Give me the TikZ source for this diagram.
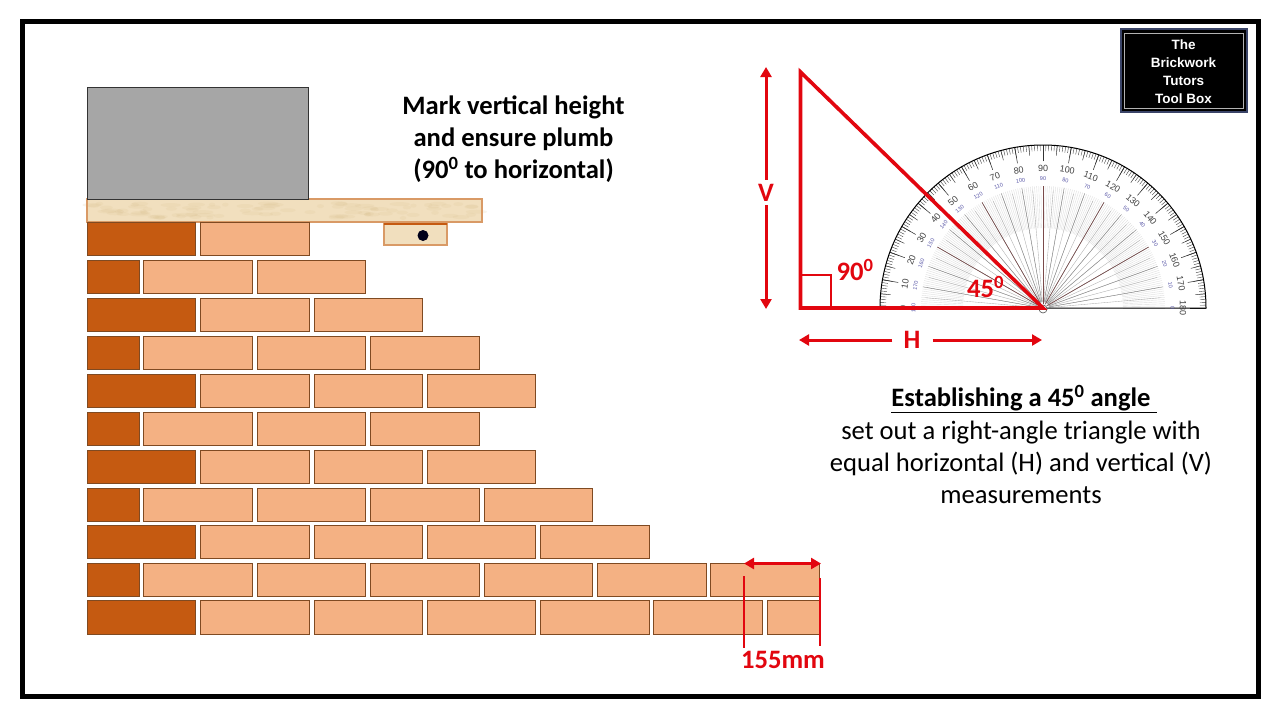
\documentclass[tikz,border=0pt]{standalone}
\usepackage{fontspec}
\setmainfont{Carlito}
\newfontfamily\logofont{Liberation Sans}
\usetikzlibrary{arrows.meta}
\definecolor{brickdark}{HTML}{C55A11}
\definecolor{bricklight}{HTML}{F4B183}
\definecolor{brickedge}{HTML}{7F4A22}
\definecolor{boardfill}{HTML}{F1DFBE}
\definecolor{boardspot}{HTML}{D9C08F}
\definecolor{boardedge}{HTML}{D99A66}
\definecolor{redline}{HTML}{E2060F}
\definecolor{protblue}{HTML}{5A58A8}
\definecolor{raydark}{HTML}{7A4A4A}
\definecolor{logoedge}{HTML}{3A4468}
\newcommand{\brickrow}[2]{% y-top, list of x1/x2/style
  \foreach \xa/\xb/\st in {#2} {\draw[\st] (\xa,#1) rectangle (\xb-0.5,#1+33.5);}}
\tikzset{
  x=1pt,y=-1pt,
  darkbrick/.style={fill=brickdark,draw=brickedge,line width=.9pt},
  lightbrick/.style={fill=bricklight,draw=brickedge,line width=.9pt},
  boardstyle/.style={draw=boardedge,line width=1.2pt},
  redthick/.style={draw=redline,line width=3.6pt,line join=miter},
  redthin/.style={draw=redline,line width=1.6pt},
  redarrow/.style={draw=redline,line width=3pt,{Triangle[length=10pt,width=11pt]}-{Triangle[length=10pt,width=11pt]}},
  redarrowone/.style={draw=redline,line width=3pt,-{Triangle[length=10pt,width=11pt]}},
  blacktext/.style={inner sep=0pt,font=\fontsize{26.6}{32}\selectfont\bfseries,align=center,text=black},
  bodytext/.style={inner sep=0pt,font=\fontsize{26.6}{32}\selectfont,align=center,text=black},
  redtext/.style={inner sep=0pt,font=\fontsize{26.6}{28}\selectfont\bfseries,text=redline},
  logotext/.style={inner sep=0pt,font=\logofont\fontsize{13.5}{18}\selectfont\bfseries,align=center,text=white},
  protblack/.style={inner sep=0pt,font=\logofont\fontsize{9}{10}\selectfont,text=black!75},
  protsmall/.style={inner sep=0pt,font=\logofont\fontsize{5.5}{6}\selectfont,text=protblue},
}
\begin{document}
\begin{tikzpicture}
\useasboundingbox (0,0) rectangle (1280,720);
\fill[white] (0,0) rectangle (1280,720);
% frame
\draw[black,line width=5.5pt] (22.5,21.5) rectangle (1258.5,696.5);
% logo
\fill[black,draw=logoedge,line width=2.5pt] (1121,29) rectangle (1247,112);
\draw[black!30,line width=1pt] (1124.5,33) rectangle (1243,108);
\node[logotext] (logo) at (1183.5,71.5) {The\\Brickwork\\Tutors\\Tool Box};
% board with mottling
\fill[boardfill] (87,199) rectangle (482,222);
\fill[boardfill] (384,224) rectangle (447,245);
\pgfmathsetseed{7}
\foreach \i in {1,...,90} {
  \pgfmathsetmacro{\px}{92+rnd*385}
  \pgfmathsetmacro{\py}{203+rnd*15}
  \pgfmathsetmacro{\pr}{3+rnd*8}
  \fill[boardspot,opacity=.16] (\px,\py) ellipse ({\pr} and 2);
}
\draw[boardstyle] (87,199) rectangle (482,222);
\draw[boardstyle] (384,224) rectangle (447,245);
\draw[draw=brickdark,line width=1.5pt] (384,224) -- (447,224);
\fill[black!90!blue] (423,235.5) circle (5.5);
% block
\draw[fill=black!35,draw=black!80,line width=1pt] (87,87) rectangle (308,199);
% bricks
\brickrow{222}{87/196/darkbrick,200/310/lightbrick}
\brickrow{260}{87/140/darkbrick,143/253/lightbrick,257/366/lightbrick}
\brickrow{298}{87/196/darkbrick,200/310/lightbrick,314/423/lightbrick}
\brickrow{336}{87/140/darkbrick,143/253/lightbrick,257/366/lightbrick,370/480/lightbrick}
\brickrow{374}{87/196/darkbrick,200/310/lightbrick,314/423/lightbrick,427/536/lightbrick}
\brickrow{412}{87/140/darkbrick,143/253/lightbrick,257/366/lightbrick,370/480/lightbrick}
\brickrow{450}{87/196/darkbrick,200/310/lightbrick,314/423/lightbrick,427/536/lightbrick}
\brickrow{488}{87/140/darkbrick,143/253/lightbrick,257/366/lightbrick,370/480/lightbrick,484/593/lightbrick}
\brickrow{525}{87/196/darkbrick,200/310/lightbrick,314/423/lightbrick,427/536/lightbrick,540/650/lightbrick}
\brickrow{563}{87/140/darkbrick,143/253/lightbrick,257/366/lightbrick,370/480/lightbrick,484/593/lightbrick,597/707/lightbrick,710/820/lightbrick}
\brickrow{600.5}{87/196/darkbrick,200/310/lightbrick,314/423/lightbrick,427/536/lightbrick,540/650/lightbrick,653/763/lightbrick,767/820/lightbrick}
% caption texts
\node[blacktext] (mark) at (513.5,139) {Mark vertical height\\and ensure plumb\\(90\textsuperscript{0} to horizontal)};
\node[blacktext] (title) at (1024,399) {\underline{Establishing a 45\textsuperscript{0} angle\ }};
\node[bodytext] (body) at (1021,462) {set out a right-angle triangle with\\equal horizontal (H) and vertical (V)\\measurements};
% protractor
\begin{scope}[shift={(1043,308)},y=1pt]
  \foreach \a in {0,...,180} {\draw[black!12,line width=.4pt] (\a:80pt) -- (\a:122pt);}
  \foreach \a in {5,10,...,175} {\draw[black!32,line width=.35pt] (\a:6pt) -- (\a:118pt);}
  \foreach \a in {10,20,...,170} {\draw[black!45,line width=.4pt] (\a:6pt) -- (\a:122pt);}
  \foreach \a in {30,60,120,150} {\draw[raydark,line width=.55pt] (\a:4pt) -- (\a:122pt);}
  \draw[raydark,line width=1pt] (90:4pt) -- (90:122pt);
  \draw[raydark,line width=.9pt] (90:147pt) -- (90:163pt);
  \foreach \a in {0,...,180} {\draw[black!75,line width=.4pt] (\a:157pt) -- (\a:163pt);}
  \foreach \a in {0,5,...,180} {\draw[black!75,line width=.5pt] (\a:153pt) -- (\a:163pt);}
  \foreach \a in {0,10,...,180} {\draw[black!80,line width=.55pt] (\a:147pt) -- (\a:163pt);}
  \draw[black,line width=1pt] (-163pt,0pt) arc[start angle=180,end angle=0,radius=163pt] -- cycle;
  \foreach \a in {0,10,...,180} {
    \pgfmathtruncatemacro{\outer}{180-\a}
    \pgfmathsetmacro{\rot}{\a-90}
    \node[protblack,rotate=\rot] (out\a) at (\a:140pt) {\outer};
    \node[protsmall,rotate=\rot] (in\a) at (\a:129.5pt) {\a};
  }
  \draw[black!70,fill=white,line width=.6pt] (0pt,-1pt) circle (4pt);
\end{scope}
% red triangle
\coordinate (apex) at (800.5,72);
\coordinate (corner) at (800.5,308);
\coordinate (mid) at (1043,308);
\draw[redthin] (800,275) -- (831,275) -- (831,308);
\draw[redthick] (apex) -- (corner) -- (mid) -- cycle;
\node[redtext] (ninety) at (855,270) {90\textsuperscript{0}};
\node[redtext] (fortyfive) at (985.5,287) {45\textsuperscript{0}};
% V arrow
\node[redtext] (V) at (766,192.5) {V};
\coordinate (vtop) at (766,67);
\coordinate (vbot) at (766,309);
\draw[redarrowone] (V.north)+(0,-4) -- (vtop);
\draw[redarrowone] (V.south)+(0,4) -- (vbot);
% H arrow
\node[redtext] (H) at (912,340) {H};
\coordinate (hl) at (799,340);
\coordinate (hr) at (1042,340);
\draw[redarrowone] (H.west)+(-11,0) -- (hl);
\draw[redarrowone] (H.east)+(12,0) -- (hr);
% 155mm
\coordinate (da) at (744,563.5);
\coordinate (db) at (821,563.5);
\coordinate (la) at (744,576);
\coordinate (lb) at (744,648);
\coordinate (ra) at (820,578);
\coordinate (rb) at (820,646);
\draw[redarrow] (da) -- (db);
\draw[redthin,line width=2pt] (la) -- (lb);
\draw[redthin,line width=2pt] (ra) -- (rb);
\node[redtext] (dim) at (783,660) {155mm};
\end{tikzpicture}
\end{document}
